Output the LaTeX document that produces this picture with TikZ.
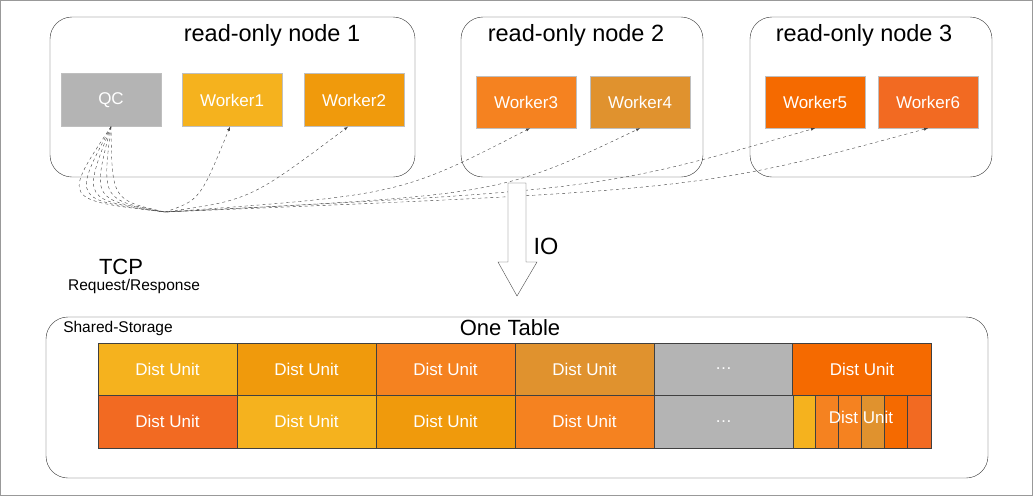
\documentclass[tikz,border=0pt]{standalone}
\usepackage{fontspec}
\setmainfont{Liberation Sans}
\definecolor{cgray}{HTML}{B4B4B4}
\definecolor{cyel}{HTML}{F5B21E}
\definecolor{corA}{HTML}{F09A0C}
\definecolor{corB}{HTML}{F58220}
\definecolor{corC}{HTML}{E0922E}
\definecolor{corD}{HTML}{F56A00}
\definecolor{corE}{HTML}{F26A22}
\begin{document}
\begin{tikzpicture}[x=1pt,y=-1pt,%
% common options for the host boxes:
host/.style = {draw=black!80, rounded corners=22pt},
% common options for workers:
work/.style = {draw=black!25, text=white, minimum width=100pt, minimum height=53pt,
            inner sep=0, font=\fontsize{17}{17}\selectfont},
% common options for storage units:
unit/.style = {draw=black!75, text=white, minimum width=139pt, minimum height=52.5pt,
            inner sep=0, font=\fontsize{17}{17}\selectfont},
strip/.style = {draw=black!75, minimum height=52.5pt, inner sep=0},
title/.style = {font=\fontsize{23.5}{23.5}\selectfont},
call/.style = {dashed, draw=black!75, -latex}]
\fill[white] (0,0) rectangle (1033,496);
\draw[black!40] (0.5,0.5) rectangle (1032.5,495.5);
\draw[host] (50,17) rectangle (415,177);
\draw[host] (461,17) rectangle (703,177);
\draw[host] (750,17) rectangle (992,177);
\node[title] (T1) at (272,35) {read-only node 1};
\node[title] (T2) at (576,35) {read-only node 2};
\node[title] (T3) at (864,35) {read-only node 3};
\node[work, fill=cgray] (QC) at (111,100) {QC};
\node[work, fill=cyel] (W1) at (232,100) {Worker1};
\node[work, fill=corA] (W2) at (354,100) {Worker2};
\node[work, fill=corB, minimum height=52pt] (W3) at (526,102) {Worker3};
\node[work, fill=corC, minimum height=52pt] (W4) at (640,102) {Worker4};
\node[work, fill=corD, minimum height=52pt] (W5) at (815,102) {Worker5};
\node[work, fill=corE, minimum height=52pt] (W6) at (928,102) {Worker6};
% dashed calls
\coordinate (H) at (165,212);
\draw[call] (QC.south) .. controls (62,200) .. (H) .. controls (200,200) .. ([xshift=-2pt]W1.south);
\draw[call] (QC.south) .. controls (72,200) .. (H) .. controls (250,200) .. ([xshift=-6pt]W2.south);
\draw[call] (QC.south) .. controls (82,200) .. (H) .. controls (400,195) .. ([xshift=4pt]W3.south);
\draw[call] (QC.south) .. controls (92,200) .. (H) .. controls (500,195) .. (W4.south);
\draw[call] (QC.south) .. controls (102,200) .. (H) .. controls (600,190) .. (W5.south);
\draw[call] (QC.south) .. controls (112,200) .. (H) .. controls (700,190) .. (W6.south);
% IO arrow
\draw[black!70, fill=white] (508,183) -- (526,183) -- (526,262) -- (537,262) -- (517,296)
  -- (498,262) -- (508,262) -- cycle;
\node[title] (IO) at (546,246) {IO};
\node[font=\fontsize{22}{22}\selectfont] (TCP) at (121,267) {TCP};
\node[font=\fontsize{15.5}{15.5}\selectfont] (RR) at (134,286) {Request/Response};
% storage
\draw[host] (46,317) rectangle (988,478);
\node[font=\fontsize{15.5}{15.5}\selectfont] (SS) at (118,328) {Shared-Storage};
\node[font=\fontsize{22}{22}\selectfont] (OT) at (510,328) {One Table};
\node[unit, fill=cyel] (U11) at (167.5,369) {Dist Unit};
\node[unit, fill=corA] (U12) at (306.5,369) {Dist Unit};
\node[unit, fill=corB] (U13) at (445.5,369) {Dist Unit};
\node[unit, fill=corC] (U14) at (584.5,369) {Dist Unit};
\node[unit, fill=cgray] (U15) at (723.5,369) {\dots};
\node[unit, fill=corD] (U16) at (862,369) {Dist Unit};
\node[unit, fill=corE] (U21) at (167.5,421.5) {Dist Unit};
\node[unit, fill=cyel] (U22) at (306.5,421.5) {Dist Unit};
\node[unit, fill=corA] (U23) at (445.5,421.5) {Dist Unit};
\node[unit, fill=corB] (U24) at (584.5,421.5) {Dist Unit};
\node[unit, fill=cgray] (U25) at (723.5,421.5) {\dots};
\foreach \a/\b/\c in {793/815/cyel, 815/838/corB, 838/861/corB, 861/884/corC, 884/907/corD, 907/931/corE}
  \node[strip, fill=\c, minimum width={\b-\a}] at ({(\a+\b)/2},421.5) {};
\node[text=white, font=\fontsize{17}{17}\selectfont] (U26) at (861,417) {Dist Unit};
\end{tikzpicture}
\end{document}
